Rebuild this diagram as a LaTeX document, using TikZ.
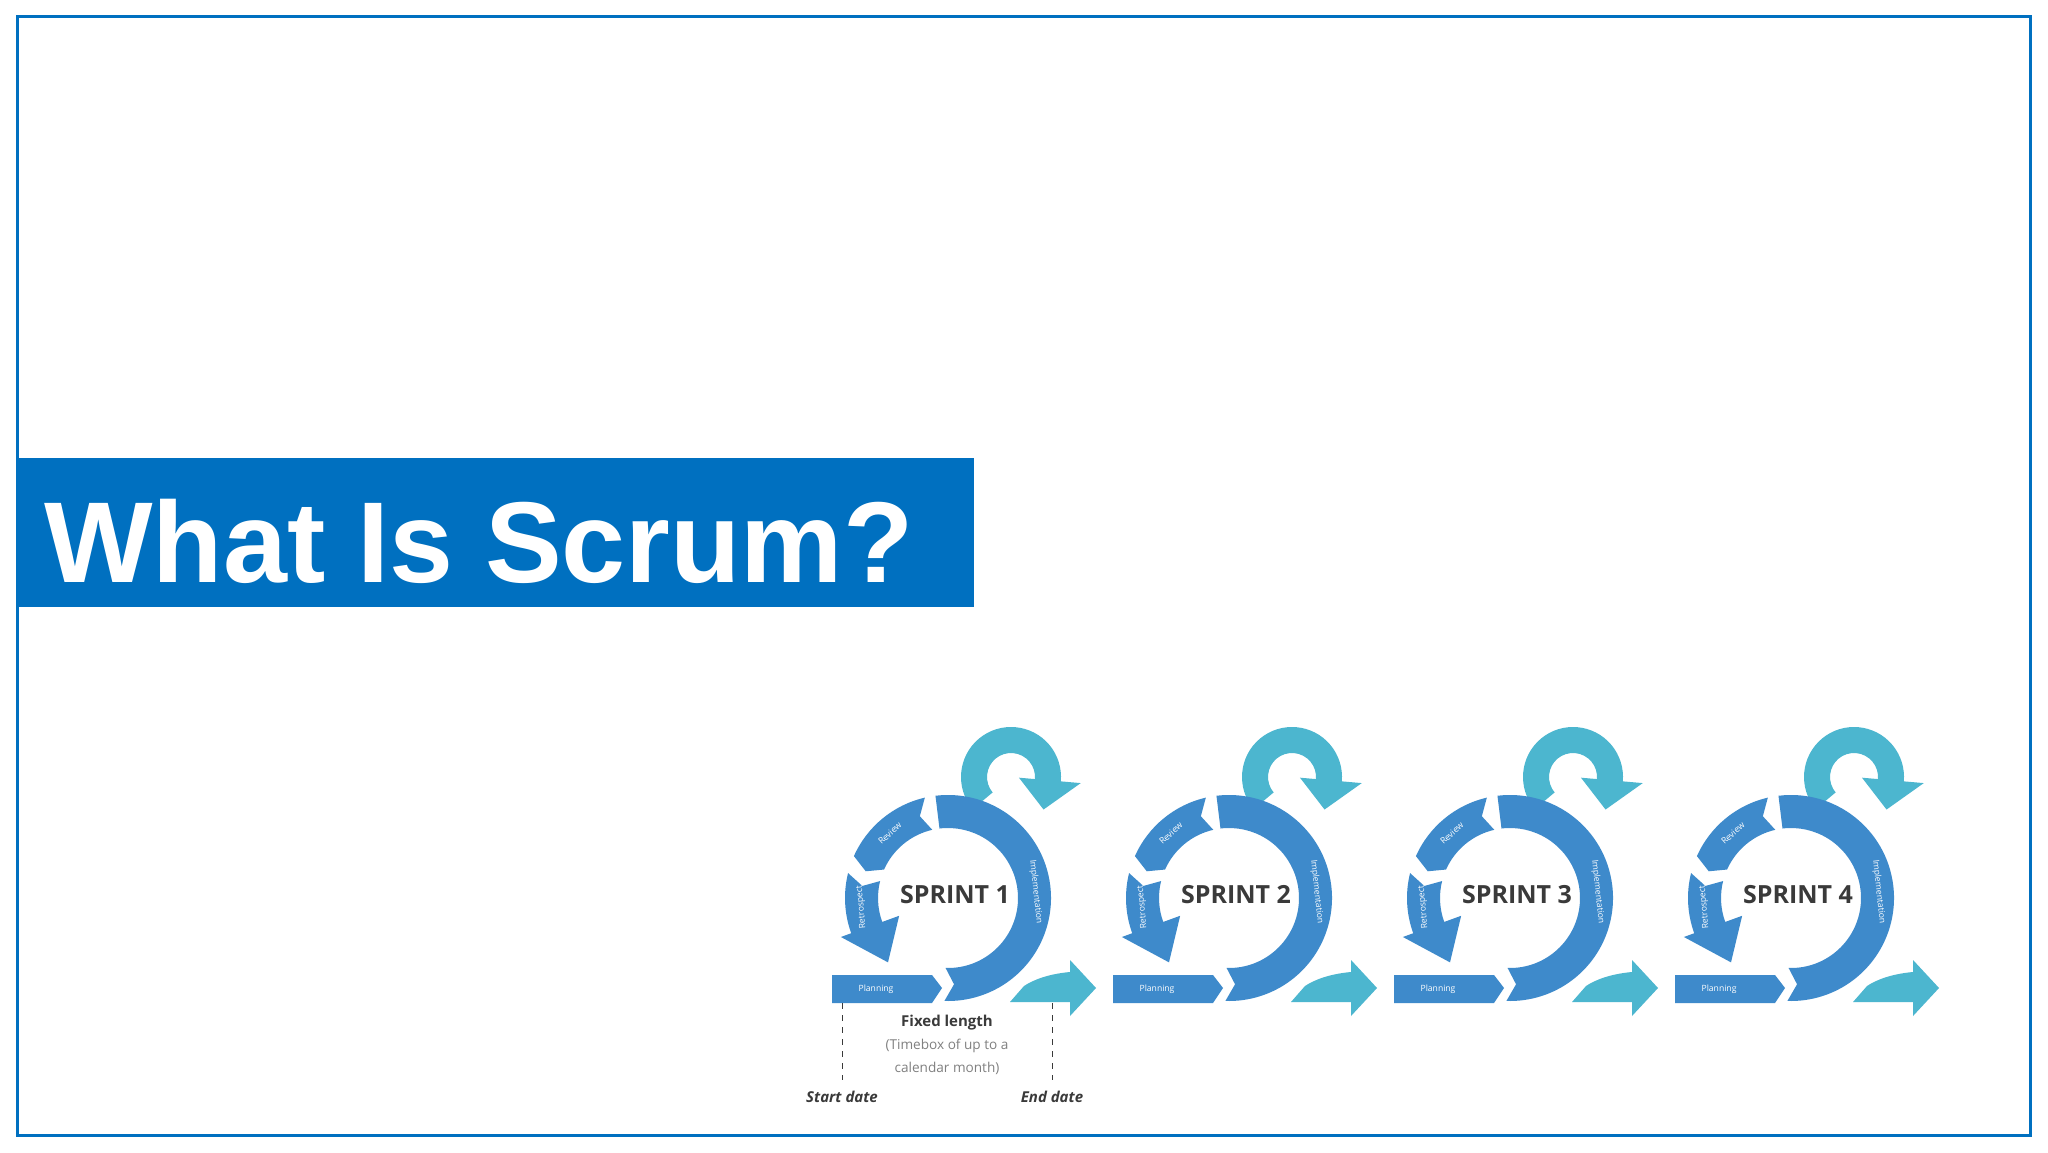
\documentclass[tikz,border=0pt]{standalone}
\usepackage{fontspec}
\setmainfont{Liberation Sans}
\newfontfamily\osans{Open Sans}
\definecolor{ringblue}{RGB}{62,138,203}
\definecolor{loopcyan}{RGB}{76,182,207}
\definecolor{titleblue}{RGB}{0,112,192}
\definecolor{darktext}{RGB}{58,58,58}
\tikzset{
  ringpart/.style={fill=ringblue,draw=none},
  cyanpart/.style={fill=loopcyan,draw=none},
  seglabel/.style={text=white,font=\osans\fontsize{4.3}{5}\selectfont,inner sep=0},
  sprintlabel/.style={text=darktext,font=\osans\bfseries\fontsize{12.5}{14}\selectfont,inner sep=0},
  notetext/.style={text=darktext,font=\osans\fontsize{6.8}{8}\selectfont,inner sep=0},
}
\newcommand{\sprintunit}[3]{%
\begin{scope}[shift={(#1,254)}]
  % top loop
  \begin{scope}[shift={(63,121)}]
    \fill[cyanpart] (220:50) arc[start angle=220,end angle=-5,radius=50] -- (-5:70)
      -- (-45:46) -- (-5:8) -- (-5:24) arc[start angle=-5,end angle=220,radius=24] -- cycle;
  \end{scope}
  % implementation
  \fill[ringpart] (97:103) arc[start angle=97,end angle=-92,radius=103] -- (-86:86.5)
    -- (-92:70) arc[start angle=-92,end angle=97,radius=70] -- cycle;
  % review
  \fill[ringpart] (103:103) arc[start angle=103,end angle=156,radius=103] -- (162:86.5)
    -- (156:70) arc[start angle=156,end angle=103,radius=70] -- (109:86.5) -- cycle;
  % retrospect
  \fill[ringpart] (166:103) arc[start angle=166,end angle=200,radius=103] -- (200:114)
    -- (227:88) -- (200:52) -- (200:70) arc[start angle=200,end angle=166,radius=70]
    -- (172:86.5) -- cycle;
  % planning bar
  \fill[ringpart] (-116,-105) -- (-16,-105) -- (-6,-90) -- (-16,-77) -- (-116,-77) -- cycle;
  % right arrow
  \fill[cyanpart] (62,-104) -- (122,-104) -- (122,-118) -- (148,-90) -- (122,-62)
    -- (122,-74) .. controls (100,-76) and (85,-82) .. (76,-88) -- cycle;
  \node[seglabel,rotate=-84] (impl#3) at (4:88) {Implementation};
  \node[seglabel,rotate=42] (rev#3) at (132:87) {Review};
  \node[seglabel,rotate=95] (retro#3) at (186:87) {Retrospect};
  \node[seglabel] (plan#3) at (-72,-91) {Planning};
  \node[sprintlabel] (spr#3) at (7,3) {#2};
\end{scope}}
\begin{document}
\begin{tikzpicture}[x=0.5pt,y=0.5pt]
\useasboundingbox (0,0) rectangle (2048,1152);
\fill[white] (0,0) rectangle (2048,1152);
\draw[titleblue,line width=1.5pt] (17,17) rectangle (2030,1135);
\fill[titleblue] (18,545) rectangle (974,694);
\node[anchor=base west,text=white,inner sep=0,font=\bfseries\fontsize{57.5}{66}\selectfont] (title) at (44,569) {What Is Scrum?};
\sprintunit{948}{SPRINT 1}{a}
\sprintunit{1229}{SPRINT 2}{b}
\sprintunit{1510}{SPRINT 3}{c}
\sprintunit{1791}{SPRINT 4}{d}
\coordinate (s1) at (842,149);
\coordinate (s2) at (842,72);
\coordinate (e1) at (1052,149);
\coordinate (e2) at (1052,72);
\draw[darktext,dashed,line width=0.5pt] (s1) -- (s2);
\draw[darktext,dashed,line width=0.5pt] (e1) -- (e2);
\node[notetext,font=\osans\bfseries\fontsize{7.5}{9}\selectfont] (fixed) at (947,129) {Fixed length};
\node[notetext,text=gray] (tb1) at (947,106) {(Timebox of up to a};
\node[notetext,text=gray] (tb2) at (947,84) {calendar month)};
\node[notetext,font=\osans\bfseries\itshape\fontsize{7.5}{9}\selectfont] (start) at (842,55) {Start date};
\node[notetext,font=\osans\bfseries\itshape\fontsize{7.5}{9}\selectfont] (end) at (1052,55) {End date};
\end{tikzpicture}
\end{document}
